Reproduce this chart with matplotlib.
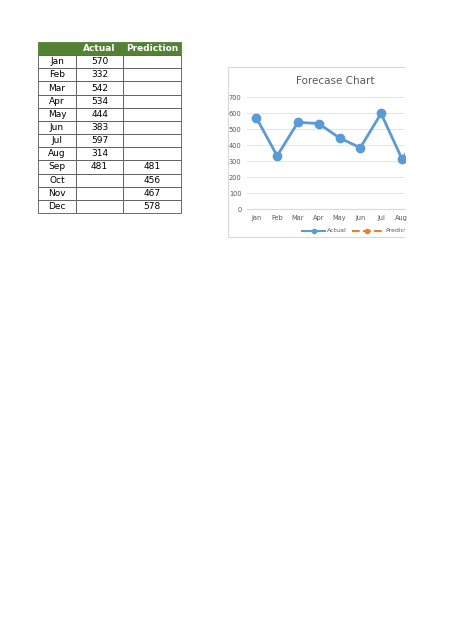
import matplotlib
matplotlib.use("Agg")
import matplotlib.pyplot as plt
from matplotlib.patches import Rectangle

months = ["Jan", "Feb", "Mar", "Apr", "May", "Jun", "Jul", "Aug", "Sep", "Oct", "Nov", "Dec"]
actual = [570, 332, 542, 534, 444, 383, 597, 314, 481, None, None, None]
prediction = [None] * 8 + [481, 456, 467, 578]
yticks = [0, 100, 200, 300, 400, 500, 600, 700]

W, H = 474, 632
fig = plt.figure(figsize=(W / 100, H / 100), dpi=100)


def box(x0, y0, x1, y1):
    return [x0 / W, 1 - y1 / H, (x1 - x0) / W, (y1 - y0) / H]


# table
tax = fig.add_axes(box(38, 42, 181, 213))
tax.axis("off")
cells = [[m, "" if a is None else str(a), "" if p is None else str(p)]
         for m, a, p in zip(months, actual, prediction)]
tbl = tax.table(cellText=cells, colLabels=["", "Actual", "Prediction"],
                colWidths=[38, 47, 58], bbox=[0, 0, 1, 1], cellLoc="center")
tbl.auto_set_font_size(False)
for (r, c), cell in tbl.get_celld().items():
    cell.set_linewidth(0.6)
    cell.set_edgecolor("#555555")
    cell.get_text().set_fontsize(6.5)
    if r == 0:
        cell.set_facecolor("#548235")
        cell.set_edgecolor("#548235")
        cell.get_text().set_color("white")
        cell.get_text().set_fontweight("bold")

# chart frame (cropped at the right)
frame = fig.add_axes(box(227, 66, 405, 238))
frame.set_xlim(0, 178)
frame.set_ylim(172, 0)
frame.axis("off")
frame.add_patch(Rectangle((1, 1), 300, 170, fill=False, ec="#d9d9d9", lw=0.8))
frame.text(108, 15, "Forecase Chart", ha="center", va="center", fontsize=7.5, color="#595959")
frame.plot([75, 98], [165, 165], color="#5b9bd5", lw=1.5)
frame.plot([86.5], [165], "o", color="#5b9bd5", ms=3)
frame.text(100, 165, "Actual", va="center", fontsize=4.5, color="#595959")
frame.plot([125, 155], [165, 165], color="#ed7d31", lw=1.5, ls="--")
frame.plot([140], [165], "o", color="#ed7d31", ms=3)
frame.text(158, 165, "Prediction", va="center", fontsize=4.5, color="#595959", clip_on=True)

ax = fig.add_axes(box(247, 97, 405, 209))
x = range(len(months))
ax.plot(x, [v if v is not None else float("nan") for v in actual], "-o",
        color="#5b9bd5", lw=2, ms=6)
ax.plot(x, [v if v is not None else float("nan") for v in prediction], "--o",
        color="#ed7d31", lw=2, ms=6)
ax.set_yticks(yticks)
ax.set_xticks(list(x))
ax.set_xticklabels(months)
ax.set_xlim(-0.45, 7.15)
ax.set_ylim(0, 700)
ax.tick_params(length=0, labelsize=4.8, labelcolor="#595959", pad=4)
ax.grid(axis="y", color="#e0e0e0", lw=0.6)
ax.set_axisbelow(True)
for s in ["top", "right", "left"]:
    ax.spines[s].set_visible(False)
ax.spines["bottom"].set_color("#d9d9d9")

fig.savefig("out.png", dpi=100)
